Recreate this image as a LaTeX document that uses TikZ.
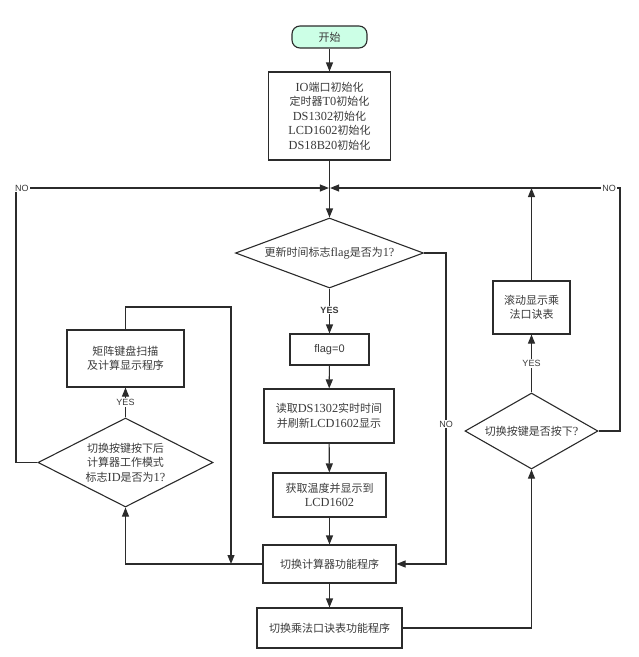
\documentclass[tikz,border=0pt]{standalone}
\usepackage{fontspec}
\setmainfont[Scale=1.12]{Liberation Serif}
\newfontfamily\cjk{Noto Sans CJK SC}
\newfontfamily\lsans{Liberation Sans}
\newcommand\zh[1]{{\cjk #1}}
\usetikzlibrary{shapes.geometric,arrows.meta}
\definecolor{ln}{HTML}{2B2B2B}
\definecolor{tx}{HTML}{3A3A3A}
\definecolor{mint}{HTML}{CCFFE6}
\tikzset{
  base/.style={draw=ln,line width=1.1pt,text=tx,font=\fontsize{11}{14.5}\selectfont,align=center,inner sep=0pt},
  proc/.style={base,rectangle},
  term/.style={base,rectangle,rounded corners=8pt,fill=mint},
  dec/.style={base,diamond},
  conn/.style={draw=ln,line width=1.1pt},
  arr/.style={conn,-{Triangle[length=9pt,width=7pt]}},
  lab/.style={text=tx,font=\lsans\fontsize{9}{10}\selectfont,fill=white,inner sep=1pt},
  blab/.style={lab,font=\lsans\bfseries\fontsize{9}{10}\selectfont},
}
\begin{document}
\begin{tikzpicture}[x=1pt,y=-1pt]
\useasboundingbox (0,0) rectangle (639,657);
% nodes
\node[term,minimum width=75pt,minimum height=22pt] (start) at (329.5,37) {\zh{开始}};
\node[proc,minimum width=122pt,minimum height=88pt] (init) at (329.5,116)
  {IO\zh{端口初始化}\\\zh{定时器}T0\zh{初始化}\\DS1302\zh{初始化}\\LCD1602\zh{初始化}\\DS18B20\zh{初始化}};
\coordinate (m) at (329.5,188);
\node[dec,minimum width=188pt,minimum height=70pt,
  label={[text=tx,font=\fontsize{11}{14.5}\selectfont]center:\zh{更新时间标志}flag\zh{是否为}1?}] (d1) at (329.5,253) {};
\node[proc,minimum width=79pt,minimum height=31pt,font=\lsans\fontsize{11}{14}\selectfont] (flag) at (329.5,349.5) {flag=0};
\node[proc,minimum width=130pt,minimum height=54pt] (read) at (329,416)
  {\zh{读取}DS1302\zh{实时时间}\\\zh{并刷新}LCD1602\zh{显示}};
\node[proc,minimum width=113pt,minimum height=44pt] (temp) at (329.5,495)
  {\zh{获取温度并显示到}\\LCD1602};
\node[proc,minimum width=133pt,minimum height=38pt] (sw) at (329.5,564) {\zh{切换计算器功能程序}};
\node[proc,minimum width=145pt,minimum height=40pt] (mult) at (329.5,628) {\zh{切换乘法口诀表功能程序}};
\node[proc,minimum width=117pt,minimum height=57pt] (mat) at (125.5,358.5)
  {\zh{矩阵键盘扫描}\\\zh{及计算显示程序}};
\node[dec,minimum width=175pt,minimum height=89pt,
  label={[text=tx,font=\fontsize{11}{14.5}\selectfont,align=center]center:\zh{切换按键按下后}\\\zh{计算器工作模式}\\\zh{标志}ID\zh{是否为}1?}] (d2) at (125.5,462.5) {};
\node[proc,minimum width=77pt,minimum height=53pt] (scr) at (531.5,307.5)
  {\zh{滚动显示乘}\\\zh{法口诀表}};
\node[dec,minimum width=133pt,minimum height=76pt,
  label={[text=tx,font=\fontsize{11}{14.5}\selectfont]center:\zh{切换按键是否按下}?}] (d3) at (531.5,431) {};
% connectors
\draw[arr] (start) -- (init);
\draw[arr] (init) -- (d1);
\draw[arr] (d2.west) -- (16,462.5) -- (16,188) -- ([xshift=-0.6pt]m);
\draw[arr] (d3.east) -- (620,431) -- (620,188) -- ([xshift=0.6pt]m);
\node[lab] (no1) at (22,188) {NO};
\node[lab] (no2) at (609,188) {NO};
\draw[arr] (d1) -- node[blab,pos=0.48] (yes1) {YES} (flag);
\draw[arr] (flag) -- (read);
\draw[arr] (read) -- (temp);
\draw[arr] (temp) -- (sw);
\draw[arr] (sw) -- (mult);
\draw[arr] (d1.east) -- (446,253) -- node[lab,pos=0.55] (no3) {NO} (446,564) -- (sw.east);
\draw[arr] (sw.west) -- (125.5,564) -- (d2.south);
\draw[arr] (mat.north) -- (125.5,307) -- (231,307) -- (231,564);
\draw[arr] (d2.north) -- node[lab,pos=0.5] (yes2) {YES} (mat.south);
\draw[arr] (d3.north) -- node[lab,pos=0.5] (yes3) {YES} (scr.south);
\draw[arr] (scr.north) -- (531.5,188);
\draw[arr] (mult.east) -- (531.5,628) -- (d3.south);
\end{tikzpicture}
\end{document}
